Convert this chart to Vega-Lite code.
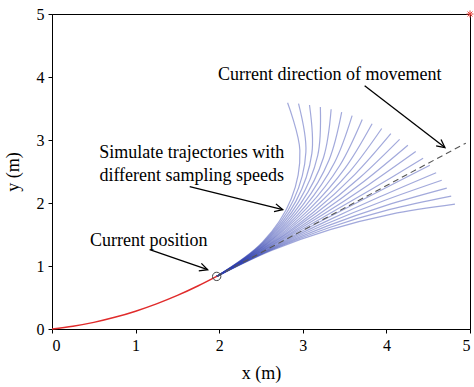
{
  "$schema": "https://vega.github.io/schema/vega-lite/v6.json",
  "width": 418,
  "height": 315,
  "autosize": {"type": "none"},
  "padding": {"left": 52, "top": 14, "right": 4, "bottom": 58},
  "config": {
    "font": "Liberation Serif",
    "view": {"stroke": "black", "strokeWidth": 1},
    "axis": {
      "grid": false,
      "domainColor": "black",
      "tickColor": "black",
      "labelColor": "black",
      "titleColor": "black",
      "labelFont": "Liberation Serif",
      "titleFont": "Liberation Serif",
      "labelFontSize": 16,
      "titleFontSize": 18,
      "titleFontWeight": "normal",
      "tickSize": 4,
      "labelPadding": 4
    }
  },
  "datasets": {
    "red": [
      {"x": 0, "y": 0}, {"x": 0.25, "y": 0.044}, {"x": 0.5, "y": 0.105}, {"x": 0.75, "y": 0.185},
      {"x": 1.0, "y": 0.283}, {"x": 1.25, "y": 0.399}, {"x": 1.5, "y": 0.533}, {"x": 1.75, "y": 0.686},
      {"x": 1.97, "y": 0.835}
    ],
    "dash": [{"x": 1.97, "y": 0.835}, {"x": 4.95, "y": 2.95}],
    "fan": [
      {"t": 0, "i": 0, "x": 1.97, "y": 0.835}, {"t": 0, "i": 1, "x": 2.518, "y": 1.378}, {"t": 0, "i": 2, "x": 2.862, "y": 2.069}, {"t": 0, "i": 3, "x": 2.965, "y": 2.834}, {"t": 0, "i": 4, "x": 2.818, "y": 3.591},
      {"t": 1, "i": 0, "x": 1.97, "y": 0.835}, {"t": 1, "i": 1, "x": 2.524, "y": 1.373}, {"t": 1, "i": 2, "x": 2.891, "y": 2.052}, {"t": 1, "i": 3, "x": 3.037, "y": 2.810}, {"t": 1, "i": 4, "x": 2.949, "y": 3.577},
      {"t": 2, "i": 0, "x": 1.97, "y": 0.835}, {"t": 2, "i": 1, "x": 2.530, "y": 1.367}, {"t": 2, "i": 2, "x": 2.920, "y": 2.034}, {"t": 2, "i": 3, "x": 3.108, "y": 2.783}, {"t": 2, "i": 4, "x": 3.080, "y": 3.555},
      {"t": 3, "i": 0, "x": 1.97, "y": 0.835}, {"t": 3, "i": 1, "x": 2.536, "y": 1.361}, {"t": 3, "i": 2, "x": 2.948, "y": 2.014}, {"t": 3, "i": 3, "x": 3.178, "y": 2.752}, {"t": 3, "i": 4, "x": 3.210, "y": 3.524},
      {"t": 4, "i": 0, "x": 1.97, "y": 0.835}, {"t": 4, "i": 1, "x": 2.543, "y": 1.355}, {"t": 4, "i": 2, "x": 2.976, "y": 1.995}, {"t": 4, "i": 3, "x": 3.247, "y": 2.719}, {"t": 4, "i": 4, "x": 3.339, "y": 3.487},
      {"t": 5, "i": 0, "x": 1.97, "y": 0.835}, {"t": 5, "i": 1, "x": 2.549, "y": 1.348}, {"t": 5, "i": 2, "x": 3.004, "y": 1.974}, {"t": 5, "i": 3, "x": 3.314, "y": 2.682}, {"t": 5, "i": 4, "x": 3.465, "y": 3.441},
      {"t": 6, "i": 0, "x": 1.97, "y": 0.835}, {"t": 6, "i": 1, "x": 2.554, "y": 1.342}, {"t": 6, "i": 2, "x": 3.030, "y": 1.952}, {"t": 6, "i": 3, "x": 3.380, "y": 2.643}, {"t": 6, "i": 4, "x": 3.590, "y": 3.387},
      {"t": 7, "i": 0, "x": 1.97, "y": 0.835}, {"t": 7, "i": 1, "x": 2.560, "y": 1.336}, {"t": 7, "i": 2, "x": 3.056, "y": 1.930}, {"t": 7, "i": 3, "x": 3.444, "y": 2.600}, {"t": 7, "i": 4, "x": 3.711, "y": 3.327},
      {"t": 8, "i": 0, "x": 1.97, "y": 0.835}, {"t": 8, "i": 1, "x": 2.566, "y": 1.329}, {"t": 8, "i": 2, "x": 3.082, "y": 1.907}, {"t": 8, "i": 3, "x": 3.506, "y": 2.554}, {"t": 8, "i": 4, "x": 3.829, "y": 3.258},
      {"t": 9, "i": 0, "x": 1.97, "y": 0.835}, {"t": 9, "i": 1, "x": 2.572, "y": 1.323}, {"t": 9, "i": 2, "x": 3.106, "y": 1.883}, {"t": 9, "i": 3, "x": 3.566, "y": 2.506}, {"t": 9, "i": 4, "x": 3.944, "y": 3.182},
      {"t": 10, "i": 0, "x": 1.97, "y": 0.835}, {"t": 10, "i": 1, "x": 2.577, "y": 1.316}, {"t": 10, "i": 2, "x": 3.131, "y": 1.858}, {"t": 10, "i": 3, "x": 3.624, "y": 2.455}, {"t": 10, "i": 4, "x": 4.053, "y": 3.100},
      {"t": 11, "i": 0, "x": 1.97, "y": 0.835}, {"t": 11, "i": 1, "x": 2.583, "y": 1.310}, {"t": 11, "i": 2, "x": 3.154, "y": 1.833}, {"t": 11, "i": 3, "x": 3.680, "y": 2.401}, {"t": 11, "i": 4, "x": 4.158, "y": 3.011},
      {"t": 12, "i": 0, "x": 1.97, "y": 0.835}, {"t": 12, "i": 1, "x": 2.588, "y": 1.303}, {"t": 12, "i": 2, "x": 3.176, "y": 1.807}, {"t": 12, "i": 3, "x": 3.734, "y": 2.345}, {"t": 12, "i": 4, "x": 4.257, "y": 2.916},
      {"t": 13, "i": 0, "x": 1.97, "y": 0.835}, {"t": 13, "i": 1, "x": 2.593, "y": 1.296}, {"t": 13, "i": 2, "x": 3.198, "y": 1.780}, {"t": 13, "i": 3, "x": 3.784, "y": 2.287}, {"t": 13, "i": 4, "x": 4.351, "y": 2.816},
      {"t": 14, "i": 0, "x": 1.97, "y": 0.835}, {"t": 14, "i": 1, "x": 2.598, "y": 1.289}, {"t": 14, "i": 2, "x": 3.219, "y": 1.753}, {"t": 14, "i": 3, "x": 3.833, "y": 2.226}, {"t": 14, "i": 4, "x": 4.439, "y": 2.709},
      {"t": 15, "i": 0, "x": 1.97, "y": 0.835}, {"t": 15, "i": 1, "x": 2.603, "y": 1.282}, {"t": 15, "i": 2, "x": 3.239, "y": 1.725}, {"t": 15, "i": 3, "x": 3.878, "y": 2.163}, {"t": 15, "i": 4, "x": 4.520, "y": 2.598},
      {"t": 16, "i": 0, "x": 1.97, "y": 0.835}, {"t": 16, "i": 1, "x": 2.608, "y": 1.275}, {"t": 16, "i": 2, "x": 3.259, "y": 1.696}, {"t": 16, "i": 3, "x": 3.921, "y": 2.098}, {"t": 16, "i": 4, "x": 4.595, "y": 2.481},
      {"t": 17, "i": 0, "x": 1.97, "y": 0.835}, {"t": 17, "i": 1, "x": 2.613, "y": 1.268}, {"t": 17, "i": 2, "x": 3.277, "y": 1.667}, {"t": 17, "i": 3, "x": 3.961, "y": 2.032}, {"t": 17, "i": 4, "x": 4.662, "y": 2.361},
      {"t": 18, "i": 0, "x": 1.97, "y": 0.835}, {"t": 18, "i": 1, "x": 2.618, "y": 1.260}, {"t": 18, "i": 2, "x": 3.295, "y": 1.637}, {"t": 18, "i": 3, "x": 3.998, "y": 1.963}, {"t": 18, "i": 4, "x": 4.722, "y": 2.237},
      {"t": 19, "i": 0, "x": 1.97, "y": 0.835}, {"t": 19, "i": 1, "x": 2.622, "y": 1.253}, {"t": 19, "i": 2, "x": 3.311, "y": 1.607}, {"t": 19, "i": 3, "x": 4.031, "y": 1.894}, {"t": 19, "i": 4, "x": 4.775, "y": 2.110},
      {"t": 20, "i": 0, "x": 1.97, "y": 0.835}, {"t": 20, "i": 1, "x": 2.627, "y": 1.246}, {"t": 20, "i": 2, "x": 3.327, "y": 1.577}, {"t": 20, "i": 3, "x": 4.062, "y": 1.823}, {"t": 20, "i": 4, "x": 4.820, "y": 1.981}
    ],
    "current": [{"x": 1.97, "y": 0.835}],
    "goal": [{"x": 5, "y": 5}],
    "arrows": [
      {"a": "dir", "i": 0, "x": 3.74, "y": 3.86}, {"a": "dir", "i": 1, "x": 4.70, "y": 2.88},
      {"a": "sim", "i": 0, "x": 1.647, "y": 2.259}, {"a": "sim", "i": 1, "x": 2.76, "y": 1.894},
      {"a": "pos", "i": 0, "x": 1.169, "y": 1.259}, {"a": "pos", "i": 1, "x": 1.862, "y": 0.941}
    ],
    "labels": [
      {"label": "Current direction of movement", "x": 3.322, "y": 3.957},
      {"label": "Simulate trajectories with", "x": 1.671, "y": 2.719},
      {"label": "different sampling speeds", "x": 1.671, "y": 2.354},
      {"label": "Current position", "x": 1.157, "y": 1.322}
    ]
  },
  "encoding": {
    "x": {
      "field": "x", "type": "quantitative",
      "scale": {"domain": [0, 5], "nice": false, "zero": false},
      "axis": {"values": [0, 1, 2, 3, 4, 5], "title": "x (m)", "titlePadding": 11, "labelFont": "Liberation Serif", "labelFontSize": 16, "titleFont": "Liberation Serif", "titleFontSize": 18}
    },
    "y": {
      "field": "y", "type": "quantitative",
      "scale": {"domain": [0, 5], "nice": false, "zero": false},
      "axis": {"values": [0, 1, 2, 3, 4, 5], "title": "y (m)", "titlePadding": 14, "labelFont": "Liberation Serif", "labelFontSize": 16, "titleFont": "Liberation Serif", "titleFontSize": 18}
    }
  },
  "layer": [
    {
      "data": {"name": "fan"},
      "mark": {"type": "line", "interpolate": "catmull-rom", "stroke": "#3040b0", "strokeOpacity": 0.45, "strokeWidth": 1.2},
      "encoding": {"detail": {"field": "t", "type": "nominal"}, "order": {"field": "i", "type": "quantitative"}}
    },
    {
      "data": {"name": "dash"},
      "mark": {"type": "line", "stroke": "#555555", "strokeWidth": 1.1, "strokeDash": [6, 4]},
      "encoding": {}
    },
    {
      "data": {"name": "red"},
      "mark": {"type": "line", "interpolate": "monotone", "stroke": "#e02b2b", "strokeWidth": 1.5},
      "encoding": {}
    },
    {
      "data": {"name": "current"},
      "mark": {"type": "point", "shape": "circle", "filled": false, "stroke": "#444444", "strokeWidth": 1, "size": 70, "opacity": 1}
    },
    {
      "data": {"name": "goal"},
      "mark": {"type": "point", "shape": "M-1,0L1,0M0,-1L0,1M-0.7,-0.7L0.7,0.7M-0.7,0.7L0.7,-0.7", "filled": false, "stroke": "#e8403a", "strokeWidth": 1, "size": 50, "opacity": 1}
    },
    {
      "data": {"name": "arrows"},
      "mark": {"type": "line", "stroke": "black", "strokeWidth": 1.3},
      "encoding": {"detail": {"field": "a", "type": "nominal"}, "order": {"field": "i", "type": "quantitative"}}
    },
    {
      "data": {"name": "arrows"},
      "transform": [{"filter": "datum.a === 'dir' && datum.i === 1"}],
      "mark": {"type": "point", "shape": "M-0.5,1L0,0L0.5,1", "filled": false, "stroke": "black", "strokeWidth": 1.3, "size": 256, "angle": 127.6, "opacity": 1}
    },
    {
      "data": {"name": "arrows"},
      "transform": [{"filter": "datum.a === 'sim' && datum.i === 1"}],
      "mark": {"type": "point", "shape": "M-0.5,1L0,0L0.5,1", "filled": false, "stroke": "black", "strokeWidth": 1.3, "size": 256, "angle": 103.9, "opacity": 1}
    },
    {
      "data": {"name": "arrows"},
      "transform": [{"filter": "datum.a === 'pos' && datum.i === 1"}],
      "mark": {"type": "point", "shape": "M-0.5,1L0,0L0.5,1", "filled": false, "stroke": "black", "strokeWidth": 1.3, "size": 256, "angle": 109.0, "opacity": 1}
    },
    {
      "data": {"name": "labels"},
      "mark": {"type": "text", "font": "Liberation Serif", "fontSize": 18, "align": "center", "baseline": "alphabetic", "color": "black"},
      "encoding": {"text": {"field": "label", "type": "nominal"}}
    }
  ]
}
